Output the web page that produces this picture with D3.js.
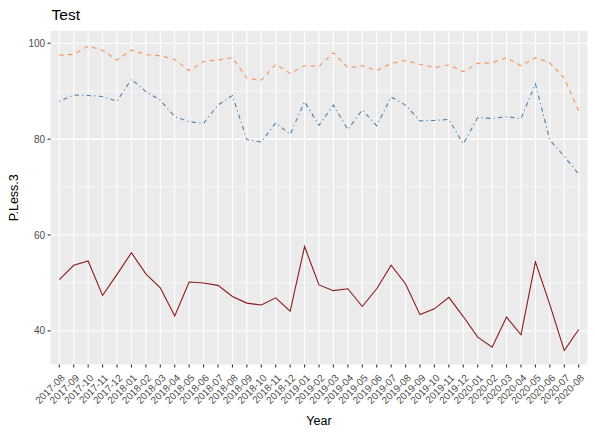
<!DOCTYPE html>
<html><head><meta charset="utf-8">
<script src="https://cdn.jsdelivr.net/npm/d3@7"></script>
<style>body{margin:0;background:#fff}svg{display:block;font-family:"Liberation Sans",Arial,sans-serif}</style>
</head><body><svg id="c" width="595" height="435"></svg>
<script>
const months = ["2017-08","2017-09","2017-10","2017-11","2017-12","2018-01","2018-02","2018-03","2018-04","2018-05","2018-06","2018-07","2018-08","2018-09","2018-10","2018-11","2018-12","2019-01","2019-02","2019-03","2019-04","2019-05","2019-06","2019-07","2019-08","2019-09","2019-10","2019-11","2019-12","2020-01","2020-02","2020-03","2020-04","2020-05","2020-06","2020-07","2020-08"];
const seriesTop = [97.5,97.7,99.4,98.5,96.5,98.6,97.6,97.4,96.6,94.3,96.2,96.5,97.0,92.7,92.3,95.6,93.7,95.3,95.2,98.0,94.9,95.3,94.3,95.8,96.4,95.6,94.9,95.5,94.1,95.8,95.9,97.0,95.3,97.0,95.9,92.7,85.9];
const seriesMid = [87.9,89.2,89.1,88.9,87.9,92.5,89.9,88.1,84.7,83.6,83.3,87.1,89.1,79.9,79.4,83.4,81.0,87.8,82.9,87.1,82.0,86.1,82.8,88.8,87.1,83.8,83.9,84.1,79.0,84.5,84.3,84.7,84.3,91.5,79.8,76.4,72.7];
const seriesLow = [50.7,53.7,54.6,47.4,51.8,56.3,51.9,49.0,43.1,50.2,50.0,49.5,47.2,45.8,45.4,46.9,44.1,57.6,49.6,48.4,48.8,45.1,48.8,53.7,49.8,43.4,44.6,47.0,43.0,38.7,36.6,42.9,39.2,54.4,45.5,35.9,40.3];
const yTicks = [40,60,80,100];
const yMinor = [50,70,90];

const svg = d3.select("#c");
const P = {l:50.6, r:587.4, t:31, b:364.5};
const x = d3.scalePoint().domain(months).range([59.3,578.7]);
const y = d3.scaleLinear().domain([33.0,102.55]).range([P.b,P.t]);

svg.append("rect").attr("width",595).attr("height",435).attr("fill","#fff");
svg.append("rect").attr("x",P.l).attr("y",P.t).attr("width",P.r-P.l).attr("height",P.b-P.t).attr("fill","#EBEBEB");
const g = svg.append("g");
g.selectAll(".ymin").data(yMinor).join("line").attr("x1",P.l).attr("x2",P.r)
 .attr("y1",d=>y(d)).attr("y2",d=>y(d)).attr("stroke","#fff").attr("stroke-width",0.55);
g.selectAll(".ymaj").data(yTicks).join("line").attr("x1",P.l).attr("x2",P.r)
 .attr("y1",d=>y(d)).attr("y2",d=>y(d)).attr("stroke","#fff").attr("stroke-width",1.1);
g.selectAll(".xmaj").data(months).join("line").attr("y1",P.t).attr("y2",P.b)
 .attr("x1",d=>x(d)).attr("x2",d=>x(d)).attr("stroke","#fff").attr("stroke-width",1.1);

const line = d3.line().x((d,i)=>x(months[i])).y(d=>y(d));
svg.append("path").datum(seriesTop).attr("d",line).attr("fill","none")
 .attr("stroke","#F79256").attr("stroke-width",1.1).attr("stroke-dasharray","4.4,4.4");
svg.append("path").datum(seriesMid).attr("d",line).attr("fill","none")
 .attr("stroke","#4682B4").attr("stroke-width",1.1).attr("stroke-dasharray","1.1,3.3,4.4,3.3");
svg.append("path").datum(seriesLow).attr("d",line).attr("fill","none")
 .attr("stroke","#8B1A1A").attr("stroke-width",1.1);

// y axis
const ya = svg.append("g");
ya.selectAll("line").data(yTicks).join("line").attr("x1",P.l-3).attr("x2",P.l)
 .attr("y1",d=>y(d)).attr("y2",d=>y(d)).attr("stroke","#333").attr("stroke-width",1.1);
ya.selectAll("text").data(yTicks).join("text").attr("x",P.l-5.5).attr("y",d=>y(d))
 .attr("dy","0.35em").attr("text-anchor","end").attr("font-size",10).attr("fill","#4D4D4D").text(d=>d);
// x axis
const xa = svg.append("g");
xa.selectAll("line").data(months).join("line").attr("x1",d=>x(d)).attr("x2",d=>x(d))
 .attr("y1",P.b).attr("y2",P.b+3).attr("stroke","#333").attr("stroke-width",1.1);
xa.selectAll("text").data(months).join("text")
 .attr("transform",d=>`translate(${x(d)+1},${P.b+9}) rotate(-45)`)
 .attr("dy","0.72em").attr("text-anchor","end").attr("font-size",10).attr("fill","#4D4D4D").text(d=>d);

svg.append("text").attr("x",P.l+1).attr("y",19.5).attr("font-size",15.5).attr("fill","#000").text("Test");
svg.append("text").attr("x",(P.l+P.r)/2).attr("y",425).attr("text-anchor","middle").attr("font-size",12.5).attr("fill","#000").text("Year");
svg.append("text").attr("transform",`translate(17.5,${(P.t+P.b)/2}) rotate(-90)`).attr("text-anchor","middle").attr("font-size",12.5).attr("fill","#000").text("P.Less.3");
</script></body></html>
